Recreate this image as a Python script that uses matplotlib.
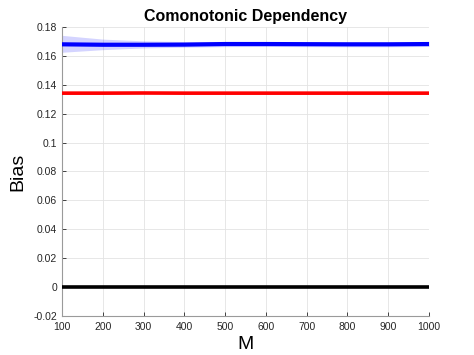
import numpy as np
import matplotlib
matplotlib.use("Agg")
import matplotlib.pyplot as plt

plt.rcParams["font.family"] = ["Liberation Sans", "DejaVu Sans"]

# Monte Carlo sample size
M = [100, 200, 300, 400, 500, 600, 700, 800, 900, 1000]

# bias of each estimator
bias_blue = [0.1680, 0.1677, 0.1677, 0.1678, 0.1682, 0.1682, 0.1681, 0.1680, 0.1680, 0.1682]
blue_lo = [0.1625, 0.1643, 0.1655, 0.1660, 0.1664, 0.1665, 0.1664, 0.1663, 0.1663, 0.1665]
blue_hi = [0.1742, 0.1716, 0.1704, 0.1699, 0.1700, 0.1699, 0.1698, 0.1697, 0.1697, 0.1699]
bias_red = [0.1342, 0.1342, 0.1343, 0.1342, 0.1342, 0.1342, 0.1342, 0.1342, 0.1342, 0.1342]
bias_black = [0.0, 0.0, 0.0, 0.0, 0.0, 0.0, 0.0, 0.0, 0.0, 0.0]

xticks = np.arange(100, 1001, 100)
yticks = np.arange(-0.02, 0.1801, 0.02)
ytick_labels = ["-0.02", "0", "0.02", "0.04", "0.06", "0.08", "0.1",
                "0.12", "0.14", "0.16", "0.18"]

fig = plt.figure(figsize=(4.74, 3.55), dpi=100)
ax = fig.add_axes([0.131, 0.110, 0.774, 0.814])

ax.fill_between(M, blue_lo, blue_hi, color="#0000ff", alpha=0.17, lw=0, zorder=2)
ax.plot(M, bias_blue, color="#0000ff", lw=3.0, zorder=3)
ax.plot(M, bias_red, color="#ff0000", lw=2.6, zorder=3)
ax.plot(M, bias_black, color="#000000", lw=2.6, zorder=3)

ax.set_xlim(100, 1000)
ax.set_ylim(-0.02, 0.18)
ax.set_xticks(xticks)
ax.set_yticks(yticks)
ax.set_yticklabels(ytick_labels)
ax.tick_params(direction="in", labelsize=7.5, length=3, width=0.6,
               colors="#262626", top=False, right=False)
ax.tick_params(axis="x", pad=4)
ax.grid(True, color="#e3e3e3", lw=0.6, zorder=0)
ax.set_axisbelow(True)
for side in ["top", "right"]:
    ax.spines[side].set_visible(False)
for side in ["left", "bottom"]:
    ax.spines[side].set_color("#9a9a9a")
    ax.spines[side].set_linewidth(0.8)

ax.set_xlabel("M", fontsize=14, labelpad=3)
ax.set_ylabel("Bias", fontsize=14, labelpad=5)
ax.set_title("Comonotonic Dependency", fontsize=11.5, fontweight="bold", pad=4)

fig.savefig("out.png", dpi=100)
